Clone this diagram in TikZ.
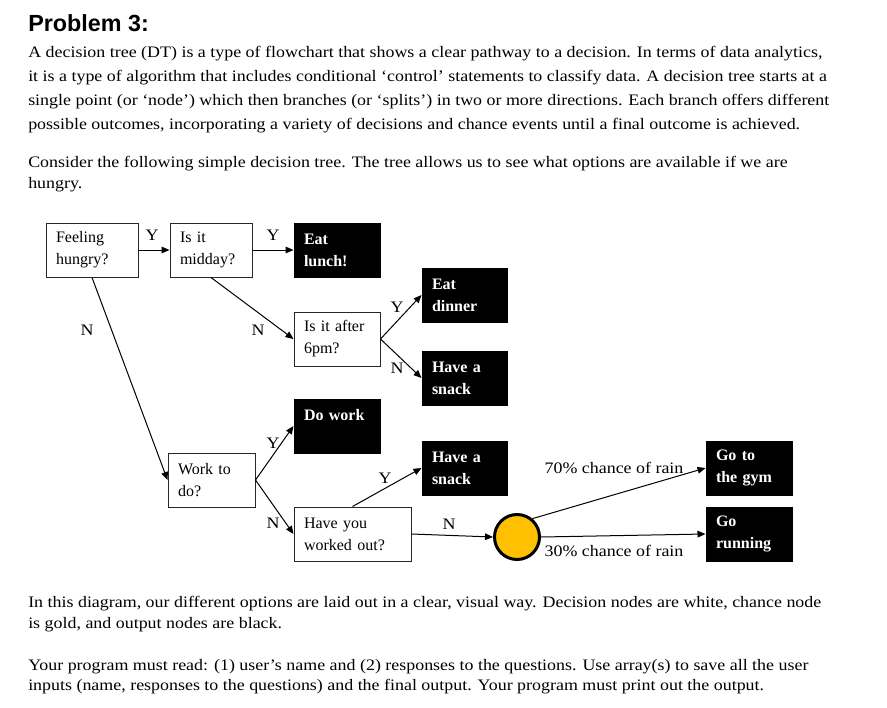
\documentclass[tikz,border=0pt]{standalone}
\usepackage{fontspec}
\setmainfont{Liberation Serif}
\newfontfamily\headfont{Liberation Sans}
\newfontfamily\widefont[FakeStretch=1.12]{Liberation Serif}
\usetikzlibrary{arrows.meta,positioning}
\definecolor{chancegold}{HTML}{FFC000}

\begin{document}
\begin{tikzpicture}[
    x=0.75pt, y=-0.75pt,
    decision/.style={rectangle, draw=black!85, fill=white, line width=0.75pt, align=left, minimum height=40.5pt, inner xsep=7.5pt, inner ysep=0pt, font=\fontsize{12}{16.5}\selectfont},
    outcome/.style={decision, draw=black, fill=black, text=white, font=\fontsize{12}{16.5}\selectfont\bfseries},
    chance/.style={circle, draw=black, line width=2.25pt, fill=chancegold, minimum size=33.75pt, inner sep=0pt},
    arrow/.style={-{Triangle[length=6pt,width=5pt]}, line width=0.75pt},
    lbl/.style={font=\widefont\fontsize{12}{14}\selectfont, inner sep=0pt},
    para/.style={anchor=base west, align=left, inner sep=0pt}
]
    \useasboundingbox (0,0) rectangle (887,707);

    % text above the tree (anchored at the baseline of the last line)
    \node [anchor=base west, inner sep=0pt, font=\headfont\fontsize{17.5}{20}\selectfont\bfseries] (title) at (28,31.5) {Problem 3:};
    \node [para, font=\widefont\fontsize{12}{18}\selectfont] (intro) at (28,129) {A decision tree (DT) is a type of flowchart that shows a clear pathway to a decision. In terms of data analytics,\\it is a type of algorithm that includes conditional ‘control’ statements to classify data. A decision tree starts at a\\single point (or ‘node’) which then branches (or ‘splits’) in two or more directions. Each branch offers different\\possible outcomes, incorporating a variety of decisions and chance events until a final outcome is achieved.};
    \node [para, font=\widefont\fontsize{12}{15.75}\selectfont] (consider) at (28,188) {Consider the following simple decision tree. The tree allows us to see what options are available if we are\\hungry.};

    % decision nodes
    \node [decision, text width=54pt] (hungry) at (92,250) {Feeling\\hungry?};
    \node [decision, text width=46.5pt] (midday) at (211,250) {Is it\\midday?};
    \node [decision, text width=49.5pt] (after6) at (337,339) {Is it after\\6pm?};
    \node [decision, text width=50.25pt] (worktodo) at (211.5,480) {Work to\\do?};
    \node [decision, text width=72.75pt] (workedout) at (352.5,534) {Have you\\worked out?};

    % chance node
    \node [chance] (rain) at (517,537) {};

    % output nodes
    \node [outcome, text width=49.5pt] (lunch) at (337,250) {Eat\\lunch!};
    \node [outcome, text width=48.75pt] (dinner) at (464.5,295) {Eat\\dinner};
    \node [outcome, text width=48.75pt] (snackA) at (464.5,378) {Have a\\snack};
    \node [outcome, text width=49.5pt] (dowork) at (337,426) {Do work\\\mbox{}};
    \node [outcome, text width=48.75pt] (snackB) at (464.5,468) {Have a\\snack};
    \node [outcome, text width=49.5pt] (gym) at (749,468) {Go to\\the gym};
    \node [outcome, text width=49.5pt] (running) at (749,534) {Go\\running};

    % connectors
    \draw [arrow] (hungry.east) -- (midday.west);
    \draw [arrow] (midday.east) -- (lunch.west);
    \draw [arrow] (hungry.south) -- (worktodo.west);
    \draw [arrow] (midday.south) -- (after6.west);
    \draw [arrow] (after6.east) -- (dinner.west);
    \draw [arrow] (after6.east) -- (snackA.west);
    \draw [arrow] (worktodo.east) -- (dowork.west);
    \draw [arrow] (worktodo.east) -- (workedout.west);
    \draw [arrow] (workedout.north) -- (snackB.west);
    \draw [arrow] (workedout.east) -- (rain.west);
    \draw [arrow] (rain.50) -- (gym.west);
    \draw [arrow] (rain.east) -- (running.west);

    % branch labels
    \node [lbl] (y1) at (152,235) {Y};
    \node [lbl] (y2) at (273,235) {Y};
    \node [lbl] (n1) at (87,330) {N};
    \node [lbl] (n2) at (258,330) {N};
    \node [lbl] (y3) at (397,307) {Y};
    \node [lbl] (n3) at (397,368) {N};
    \node [lbl] (y4) at (273,443) {Y};
    \node [lbl] (n4) at (273,523) {N};
    \node [lbl] (y5) at (385,478) {Y};
    \node [lbl] (n5) at (449,524) {N};
    \node [lbl] (p70) at (614,468) {70\% chance of rain};
    \node [lbl] (p30) at (614,551) {30\% chance of rain};

    % text below the tree
    \node [para, font=\widefont\fontsize{12}{15.75}\selectfont] (legend) at (28,628) {In this diagram, our different options are laid out in a clear, visual way. Decision nodes are white, chance node\\is gold, and output nodes are black.};
    \node [para, font=\widefont\fontsize{12}{15}\selectfont] (task) at (28,690) {Your program must read: (1) user’s name and (2) responses to the questions. Use array(s) to save all the user\\inputs (name, responses to the questions) and the final output. Your program must print out the output.};
\end{tikzpicture}
\end{document}
